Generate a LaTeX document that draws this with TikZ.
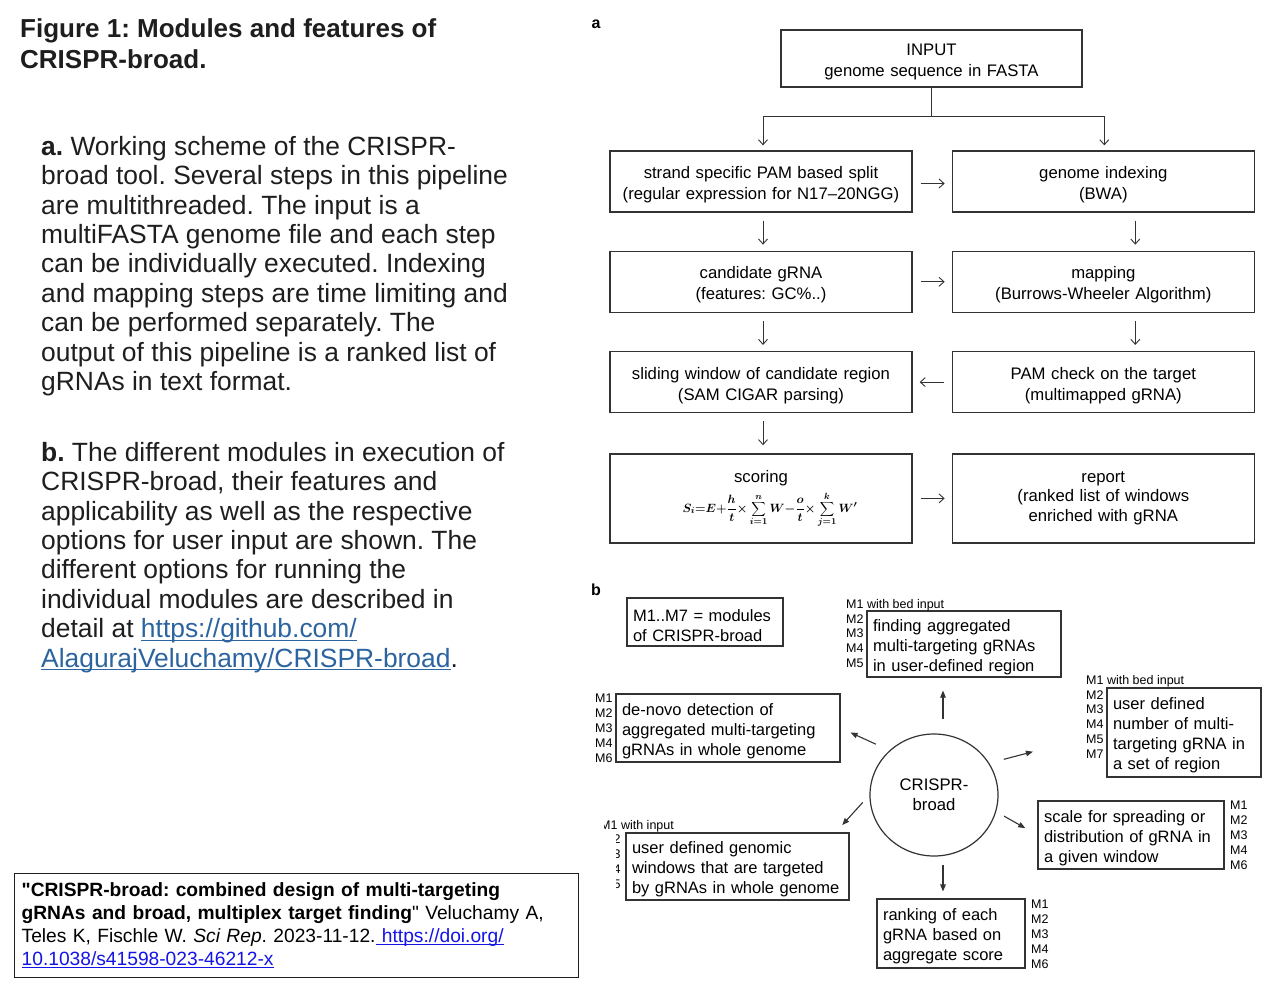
\documentclass[tikz,border=0pt]{standalone}
\usepackage{fontspec}
\setmainfont{Liberation Sans}[Ligatures=TeXOff]
\usetikzlibrary{positioning,shapes.geometric,arrows.meta}
\definecolor{ink}{HTML}{1E1E1E}
\definecolor{boxline}{HTML}{333333}
\definecolor{linkblue}{HTML}{2C64A0}
\definecolor{doiblue}{HTML}{1414E6}
\newcommand\linkline[2][3pt]{\setbox0\hbox{#2}\rlap{\rule[-#1]{\wd0}{1.1pt}}\box0}
\frenchspacing
\begin{document}
\begin{tikzpicture}
        [x=1pt,y=-1pt,
         stepbox/.style={draw=boxline,line width=1.3pt,minimum width=302pt,minimum height=61pt,
                         align=center,text width=290pt,inner sep=0pt,font=\fontsize{16.7}{21}\selectfont,
                         execute at begin node={\rule{0pt}{18.5pt}}},
         arr/.style={-{Straight Barb[length=5pt,width=9pt]},line width=0.9pt,draw=boxline},
         modbox/.style={draw=boxline,line width=1.1pt,align=left,inner xsep=6pt,inner ysep=0pt,
                        font=\fontsize{16.5}{20}\selectfont,execute at begin node={\rule{0pt}{18.2pt}}},
         mlab/.style={anchor=north west,align=left,inner sep=0pt,font=\fontsize{12.5}{14.8}\selectfont},
         barr/.style={-{Triangle[length=7pt,width=5.5pt]},line width=1.1pt,draw=boxline}]
        \useasboundingbox[fill=white] (0,0) rectangle (1280,988);

        \node[anchor=north west,align=left,inner sep=0pt,text=ink,
              font=\bfseries\fontsize{26}{31}\selectfont] (title) at (20,18.5)
              {Figure 1: Modules and features of\\CRISPR-broad.};
        \node[anchor=north west,align=left,inner sep=0pt,text=ink,
              font=\fontsize{26.4}{29.4}\selectfont] (texta) at (41,136)
              {\textbf{a.} Working scheme of the CRISPR-\\
               broad tool. Several steps in this pipeline\\
               are multithreaded. The input is a\\
               multiFASTA genome file and each step\\
               can be individually executed. Indexing\\
               and mapping steps are time limiting and\\
               can be performed separately. The\\
               output of this pipeline is a ranked list of\\
               gRNAs in text format.};
        \node[anchor=north west,align=left,inner sep=0pt,text=ink,
              font=\fontsize{26.4}{29.4}\selectfont] (textb) at (41,442)
              {\textbf{b.} The different modules in execution of\\
               CRISPR-broad, their features and\\
               applicability as well as the respective\\
               options for user input are shown. The\\
               different options for running the\\
               individual modules are described in\\
               detail at \textcolor{linkblue}{\linkline{https://github.com/}}\\
               \textcolor{linkblue}{\linkline{AlagurajVeluchamy/CRISPR-broad}}.};
        \node[draw=ink,line width=1.3pt,anchor=north west,minimum width=564pt,minimum height=104pt,
              text width=550pt,inner xsep=7pt,align=left,text=black,
              font=\fontsize{19.2}{23}\selectfont] (cite) at (14,873)
              {\textbf{"CRISPR-broad: combined design of multi-targeting}\\
               \textbf{gRNAs and broad, multiplex target finding}" Veluchamy A,\\
               Teles K, Fischle W. \textit{Sci Rep}. 2023-11-12.\textcolor{doiblue}{\linkline[2.5pt]{ https://doi.org/}}\\
               \textcolor{doiblue}{\linkline[2.5pt]{10.1038/s41598-023-46212-x}}};

        \node[font=\bfseries\fontsize{16}{16}\selectfont] (laba) at (596,24) {a};
        \node[stepbox,minimum width=301pt,minimum height=57pt] (input) at (931.5,58.5)
              {INPUT\\genome sequence in FASTA};
        \node[stepbox] (split) at (761,181.5) {strand specific PAM based split\\(regular expression for N17–20NGG)};
        \node[stepbox,right=39pt of split] (index) {genome indexing\\(BWA)};
        \node[stepbox,below=38pt of split] (cand) {candidate gRNA\\(features: GC\%..)};
        \node[stepbox,below=38pt of index] (map) {mapping\\(Burrows-Wheeler Algorithm)};
        \node[stepbox,below=38pt of cand] (slide) {sliding window of candidate region\\(SAM CIGAR parsing)};
        \node[stepbox,below=38pt of map] (pam) {PAM check on the target\\(multimapped gRNA)};
        \node[stepbox,below=40pt of slide,minimum height=89pt,execute at begin node={},
              execute at end node={\rule[-21pt]{0pt}{21pt}}] (score)
              {scoring\\[5pt]\hspace*{18pt}{\fontsize{12.2}{14}\selectfont\boldmath\medmuskip=0.5mu\thickmuskip=1.5mu
               $\displaystyle S_i{=}E{+}\frac{h}{t}{\times}\sum_{i=1}^{n}W{-}\frac{o}{t}{\times}\sum_{j=1}^{k}W'$}};
        \node[stepbox,below=40pt of pam,minimum height=89pt,font=\fontsize{16.7}{19.5}\selectfont,
              execute at begin node={},execute at end node={\rule[-11.5pt]{0pt}{11.5pt}}] (report)
              {report\\(ranked list of windows\\enriched with gRNA};

        \coordinate (fork) at ([yshift=-29pt]input.south);
        \draw[boxline,line width=0.9pt] (input.south) -- (fork);
        \draw[arr,shorten >=5pt] (fork) -| ([xshift=2pt]split.north);
        \draw[arr,shorten >=5pt] (fork) -| ([xshift=1pt]index.north);
        \draw[arr,shorten <=8pt,shorten >=7pt] ([yshift=-2pt]split.east) -- ([yshift=-2pt]index.west);
        \draw[arr,shorten <=8pt,shorten >=7pt] (cand) -- (map);
        \draw[arr,shorten <=8pt,shorten >=7pt] (pam) -- (slide);
        \draw[arr,shorten <=8pt,shorten >=7pt] (score) -- (report);
        \draw[arr,shorten <=8pt,shorten >=6pt] ([xshift=2pt]split.south) -- ([xshift=2pt]cand.north);
        \draw[arr,shorten <=8pt,shorten >=6pt] ([xshift=2pt]cand.south) -- ([xshift=2pt]slide.north);
        \draw[arr,shorten <=8pt,shorten >=8pt] ([xshift=2pt]slide.south) -- ([xshift=2pt]score.north);
        \draw[arr,shorten <=8pt,shorten >=6pt] ([xshift=32pt]index.south) -- ([xshift=32pt]map.north);
        \draw[arr,shorten <=8pt,shorten >=6pt] ([xshift=32pt]map.south) -- ([xshift=32pt]pam.north);

        \node[font=\bfseries\fontsize{16}{16}\selectfont] (labb) at (596,590) {b};
        \node[modbox,text width=144pt,minimum height=48pt] (legend) at (705,622) {M1..M7 = modules\\of CRISPR-broad};
        \node[ellipse,draw=boxline,line width=1.2pt,minimum width=128pt,minimum height=122pt,
              align=center,font=\fontsize{16.7}{20}\selectfont] (hub) at (934,795) {CRISPR-\\broad};
        \node[modbox,text width=182pt,minimum height=66pt] (find) at (964,644)
              {finding aggregated\\multi-targeting gRNAs\\in user-defined region};
        \node[modbox,text width=212pt,minimum height=68pt] (denovo) at (728,728)
              {de-novo detection of\\aggregated multi-targeting\\gRNAs in whole genome};
        \node[modbox,text width=142pt,minimum height=89pt] (user) at (1184,732.5)
              {user defined\\number of multi-\\targeting gRNA in\\a set of region};
        \node[modbox,text width=211pt,minimum height=67pt] (genwin) at (737.5,866.5)
              {user defined genomic\\windows that are targeted\\by gRNAs in whole genome};
        \node[modbox,text width=174pt,minimum height=68pt] (spread) at (1131,835)
              {scale for spreading or\\distribution of gRNA in\\a given window};
        \node[modbox,text width=136pt,minimum height=69pt] (rank) at (951,933.5)
              {ranking of each\\gRNA based on\\aggregate score};

        \node[mlab] (findlab) at (846,599) {M1 with bed input\\M2\\M3\\M4\\M5};
        \node[mlab] (denovolab) at (595,694) {M1\\M2\\M3\\M4\\M6};
        \node[mlab] (userlab) at (1086,675) {M1 with bed input\\M2\\M3\\M4\\M5\\M7};
        \node[mlab] (spreadlab) at (1230,801) {M1\\M2\\M3\\M4\\M6};
        \node[mlab] (ranklab) at (1031,900) {M1\\M2\\M3\\M4\\M6};
        \begin{scope}
          \clip (604.5,812) rectangle (700,833);
          \node[mlab] (genlab) at (600,820) {M1 with input};
        \end{scope}
        \begin{scope}
          \clip (616.5,834) rectangle (626,900);
          \node[mlab] (genlabs) at (603,835) {M2\\M3\\M4\\M5};
        \end{scope}

        \draw[barr,shorten <=14pt,shorten >=13pt] ([xshift=9pt]hub.north) -- ([xshift=-21pt]find.south);
        \draw[barr,shorten <=15pt,shorten >=11pt] (hub.135) -- (denovo.east);
        \draw[barr,shorten <=15pt,shorten >=76pt] (hub.30) -- (user.west);
        \draw[barr,shorten <=10pt,shorten >=10pt] (hub.west) -- ([xshift=-14pt]genwin.north east);
        \draw[barr,shorten <=9pt,shorten >=14pt] (hub.345) -- (spread.west);
        \draw[barr,shorten <=8pt,shorten >=7pt] ([xshift=9pt]hub.south) -- ([xshift=-8pt]rank.north);
      \end{tikzpicture}
\end{document}
